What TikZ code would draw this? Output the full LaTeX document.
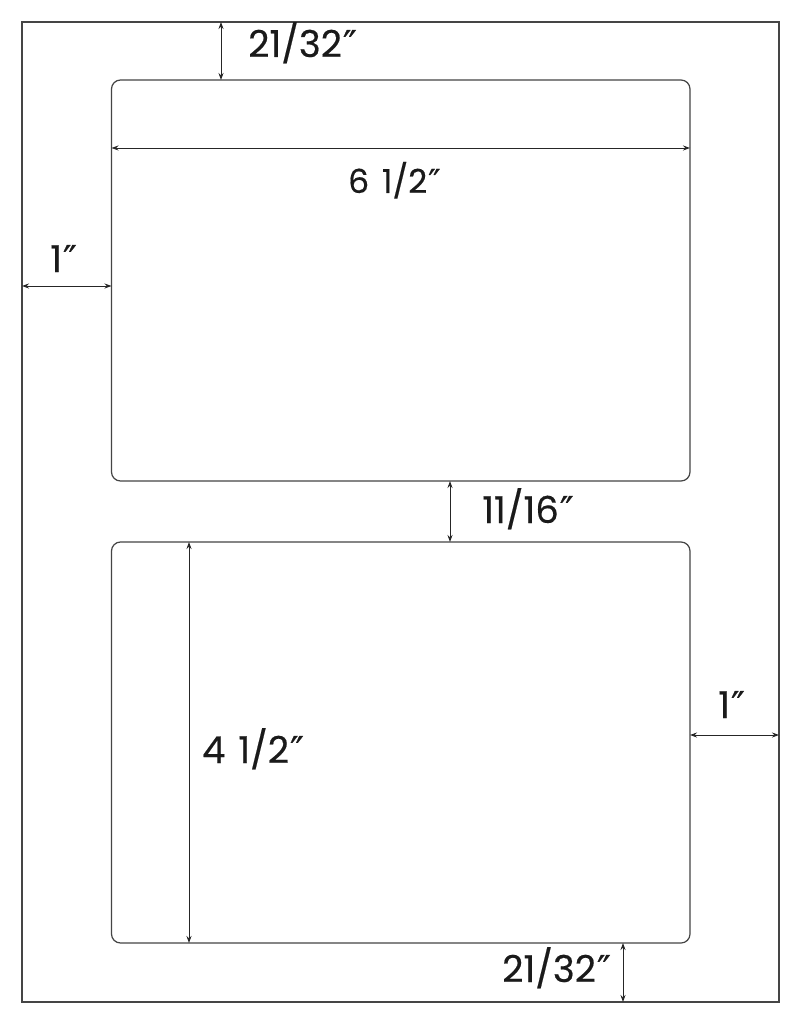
\documentclass[tikz,border=0pt]{standalone}
\usepackage{fontspec}
\setmainfont{Poppins}[FakeBold=0.4]
\newfontfamily\primefont{DejaVu Sans}[FakeBold=0.4]
\newcommand{\inch}{{\primefont\kern1pt″}}
\usetikzlibrary{arrows.meta}
\definecolor{ln}{HTML}{454545}
\definecolor{tx}{HTML}{1A1A1A}
\begin{document}
\begin{tikzpicture}[x=1pt,y=-1pt,
  sheet/.style={draw=ln,line width=1.2pt,minimum width=757pt,minimum height=980pt,inner sep=0pt,outer sep=0pt},
  lab/.style={draw=ln,line width=1.2pt,rounded corners=9pt,minimum width=578.5pt,minimum height=401pt,inner sep=0pt,outer sep=0pt},
  dim/.style={draw=black!85,line width=0.9pt,{Stealth[length=7pt,width=5pt]}-{Stealth[length=7pt,width=5pt]}},
  txt/.style={anchor=base west,inner sep=0pt,text=tx,font=\fontsize{37}{42}\selectfont},
  txts/.style={anchor=base west,inner sep=0pt,text=tx,font=\fontsize{33}{38}\selectfont}]
\useasboundingbox[fill=white] (0,0) rectangle (801,1024);
\node[sheet] (page) at (400.5,512) {};
\node[lab] (l1) at (400.75,280.5) {};
\node[lab] (l2) at (400.75,742.5) {};
% guide coordinates
\coordinate (xa) at (221,0);
\coordinate (xb) at (450,0);
\coordinate (xc) at (189,0);
\coordinate (xd) at (623,0);
\coordinate (ya) at (0,148);
\coordinate (yb) at (0,286);
\coordinate (yc) at (0,735);
% dimension arrows
\draw[dim] (xa |- page.north) -- (xa |- l1.north);
\draw[dim] (ya -| l1.west) -- (ya -| l1.east);
\draw[dim] (yb -| page.west) -- (yb -| l1.west);
\draw[dim] (xb |- l1.south) -- (xb |- l2.north);
\draw[dim] (yc -| l2.east) -- (yc -| page.east);
\draw[dim] (xc |- l2.north) -- (xc |- l2.south);
\draw[dim] (xd |- l2.south) -- (xd |- page.south);
% texts
\node[txt] (t1) at (248,57) {21/32\inch};
\node[txts] (t2) at (348,193) {6\kern4pt{} 1/2\inch};
\node[txt] (t3) at (50,272) {1\inch};
\node[txt] (t4) at (482,523) {11/16\inch};
\node[txt] (t5) at (718,718) {1\inch};
\node[txt] (t6) at (202,763) {4\kern3pt{} 1/2\inch};
\node[txt] (t7) at (502,982) {21/32\inch};
\end{tikzpicture}
\end{document}
